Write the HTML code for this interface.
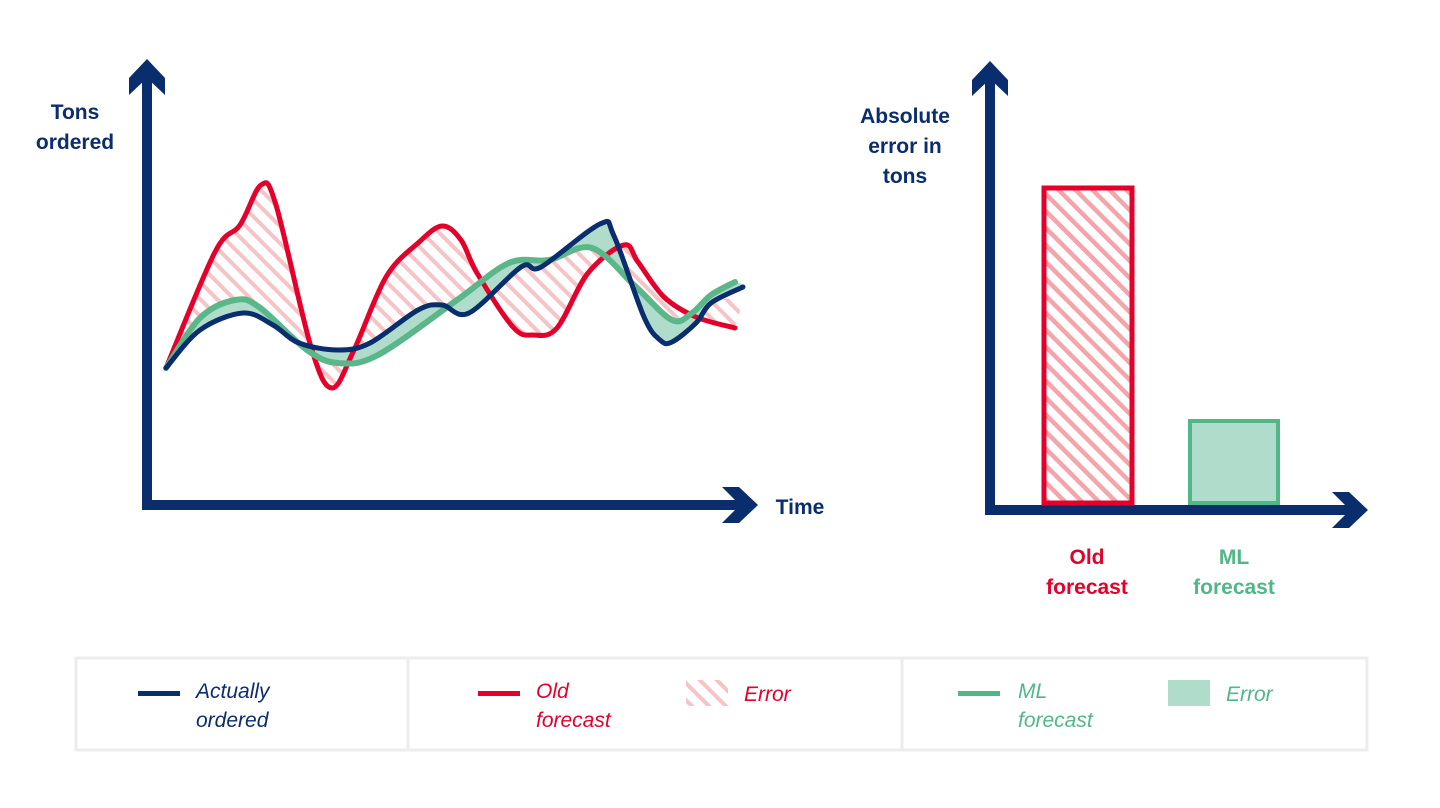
<!DOCTYPE html>
<html><head><meta charset="utf-8"><style>
body{margin:0;background:#fff;width:1440px;height:808px;overflow:hidden;font-family:"Liberation Sans",sans-serif}
svg{position:absolute;left:0;top:0}
</style></head><body>
<svg width="1440" height="808" viewBox="0 0 1440 808" xmlns="http://www.w3.org/2000/svg">
<defs>
<pattern id="hatch" patternUnits="userSpaceOnUse" width="12" height="12" patternTransform="rotate(-45)">
<rect x="0" y="0" width="4" height="12" fill="#f6c3c6"/>
</pattern>
<pattern id="hatch2" patternUnits="userSpaceOnUse" width="12" height="12" patternTransform="rotate(-45)">
<rect x="0" y="0" width="4.5" height="12" fill="#f4a5aa"/>
</pattern>
</defs>
<g id="fills"></g>
<g id="lines" fill="none" stroke-linecap="round" stroke-linejoin="round"></g>
<g fill="#0a2d6e">
<rect x="142" y="72" width="10" height="438"/>
<polygon points="147,59 165,78 165,95 147,78 129,95 129,78"/>
<rect x="142" y="500" width="600" height="10"/>
<polygon points="758,505 739,523 722,523 740,505 722,487 739,487"/>
<rect x="985" y="75" width="10" height="440"/>
<polygon points="990,61 1008,80 1008,96 990,79 972,96 972,80"/>
<rect x="985" y="505" width="365" height="10"/>
<polygon points="1368,510 1349,528 1332,528 1350,510 1332,492 1349,492"/>
</g>
<rect x="1044" y="188" width="88" height="315" fill="url(#hatch2)" stroke="#e4002b" stroke-width="5"/>
<rect x="1190" y="421" width="88" height="82" fill="#b0dccb" stroke="#52b788" stroke-width="4"/>
<g font-weight="bold" font-size="21" text-anchor="middle">
<text x="75" y="119" fill="#0a2d6e">Tons</text>
<text x="75" y="149" fill="#0a2d6e">ordered</text>
<text x="800" y="514" fill="#0a2d6e">Time</text>
<text x="905" y="123" fill="#0a2d6e">Absolute</text>
<text x="905" y="153" fill="#0a2d6e">error in</text>
<text x="905" y="183" fill="#0a2d6e">tons</text>
<text x="1087" y="564" fill="#e4002b">Old</text>
<text x="1087" y="594" fill="#e4002b">forecast</text>
<text x="1234" y="564" fill="#52b788">ML</text>
<text x="1234" y="594" fill="#52b788">forecast</text>
</g>
<rect x="76" y="658" width="1291" height="92" fill="none" stroke="#ececec" stroke-width="3"/>
<line x1="408" y1="658" x2="408" y2="750" stroke="#ececec" stroke-width="3"/>
<line x1="902" y1="658" x2="902" y2="750" stroke="#ececec" stroke-width="3"/>
<g font-style="italic" font-size="21">
<rect x="138" y="691" width="42" height="5" fill="#0a2d6e"/>
<text x="196" y="698" fill="#0a2d6e">Actually</text>
<text x="196" y="727" fill="#0a2d6e">ordered</text>
<rect x="478" y="691" width="42" height="5" fill="#e4002b"/>
<text x="536" y="698" fill="#e4002b">Old</text>
<text x="536" y="727" fill="#e4002b">forecast</text>
<rect x="686" y="680" width="42" height="26" fill="url(#hatch)"/>
<text x="744" y="701" fill="#e4002b">Error</text>
<rect x="958" y="691" width="42" height="5" fill="#52b788"/>
<text x="1018" y="698" fill="#52b788">ML</text>
<text x="1018" y="727" fill="#52b788">forecast</text>
<rect x="1168" y="680" width="42" height="26" fill="#b0dccb"/>
<text x="1226" y="701" fill="#52b788">Error</text>
</g>
</svg>
<script>
var blue=[[166,368],[200,330],[243,313],[273,325],[299,343],[338,350],[370,343],[418,310],[442,305],[469,313],[521,267],[541,267],[600,224],[614,236],[644,317],[660,340],[672,342],[696,323],[711,303],[743,287]];
var red=[[166,368],[215,252],[240,225],[261,185],[276,205],[311,347],[332,388],[354,350],[386,277],[418,243],[442,226],[461,240],[477,273],[513,327],[533,335],[557,328],[588,273],[624,245],[638,262],[664,297],[696,317],[735,328]];
var green=[[166,368],[200,318],[235,300],[259,307],[307,350],[338,363],[378,355],[457,300],[509,263],[549,260],[592,248],[636,287],[672,320],[692,313],[711,295],[735,282]];
function cr(p,start){var d=start?"M"+p[0][0]+","+p[0][1]:"L"+p[0][0]+","+p[0][1];
for(var i=0;i<p.length-1;i++){var p0=p[i-1]||p[i],p1=p[i],p2=p[i+1],p3=p[i+2]||p2;
d+="C"+(p1[0]+(p2[0]-p0[0])/6)+","+(p1[1]+(p2[1]-p0[1])/6)+" "+(p2[0]-(p3[0]-p1[0])/6)+","+(p2[1]-(p3[1]-p1[1])/6)+" "+p2[0]+","+p2[1];}
return d;}
var rb=blue.slice().reverse();
var ns="http://www.w3.org/2000/svg";
function path(g,d,attrs){var e=document.createElementNS(ns,"path");e.setAttribute("d",d);for(var k in attrs)e.setAttribute(k,attrs[k]);document.getElementById(g).appendChild(e);}
path("fills",cr(red,true)+cr([[735,328],[740,300]].concat(rb.slice(1)),false)+"Z",{fill:"url(#hatch)"});
path("fills",cr(green,true)+cr([[735,282],[743,287]].concat(rb.slice(1)),false)+"Z",{fill:"#b0dccb"});
path("lines",cr(red,true),{stroke:"#e4002b","stroke-width":5});
path("lines",cr(green,true),{stroke:"#5bb78a","stroke-width":6});
path("lines",cr(blue,true),{stroke:"#0a2d6e","stroke-width":5});
</script>
</body></html>
